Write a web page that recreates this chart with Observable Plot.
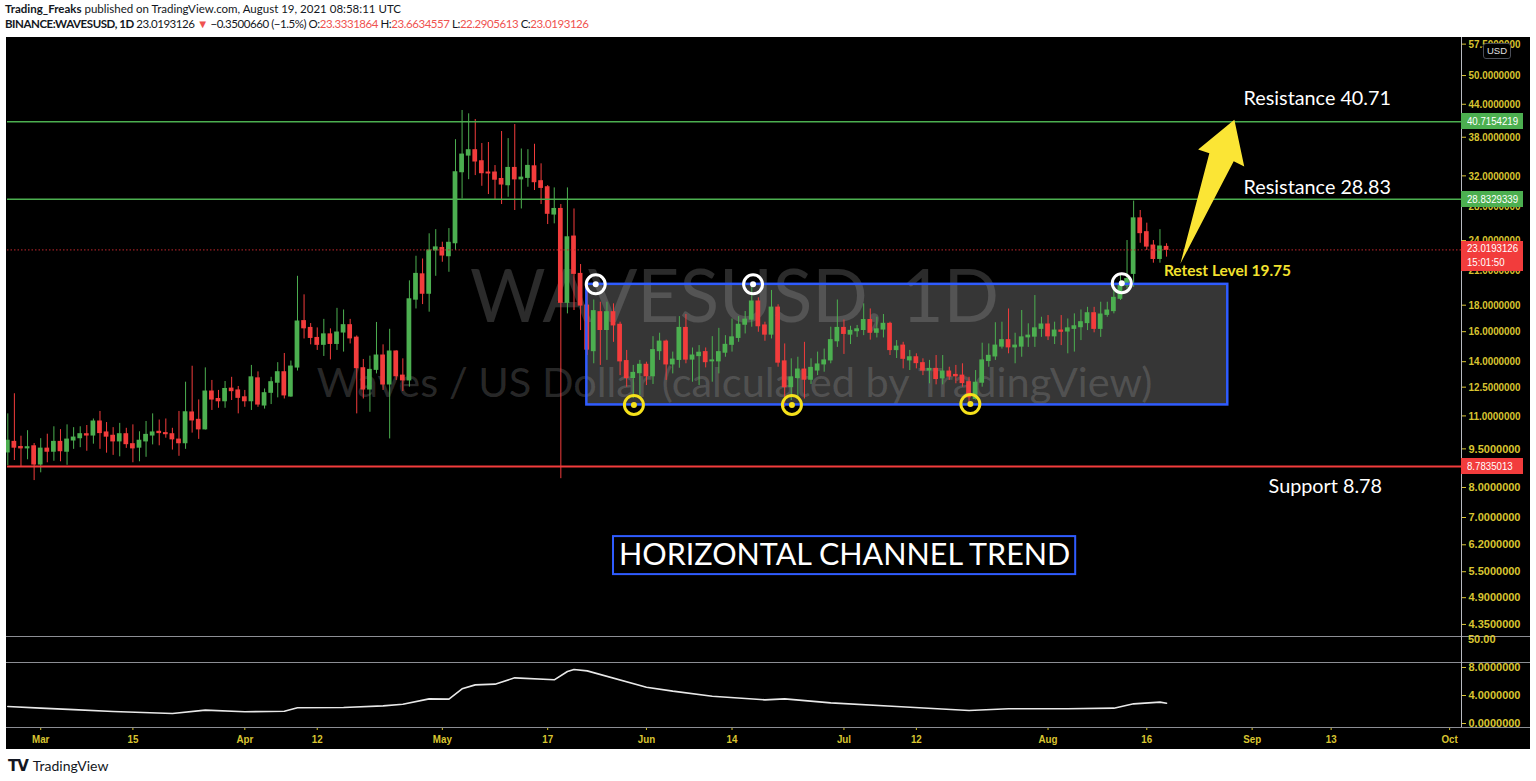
<!DOCTYPE html>
<html>
<head>
<meta charset="utf-8">
<script src="https://cdn.jsdelivr.net/npm/d3@7"></script>
<script src="https://cdn.jsdelivr.net/npm/@observablehq/plot@0.6"></script>
<style>
  html, body { margin: 0; padding: 0; background: #fff; }
  body { width: 1536px; height: 781px; overflow: hidden; font-family: Lato, "Open Sans", sans-serif; }
  #wrap { position: relative; width: 1536px; height: 781px; }
  .hdr { position: absolute; left: 5px; font-size: 11.5px; color: #131722; white-space: nowrap; line-height: 14px; }
  .hdr b { font-weight: 700; }
  .neg { color: #ef5350; }
  #chart { position: absolute; left: 6px; top: 37px; width: 1524px; height: 712px; background: #000; overflow: hidden; }
  #chart svg { position: absolute; left: 0; }
  .hline { position: absolute; left: 0; width: 1524px; height: 1px; background: #8c8e94; }
  .vline { position: absolute; top: 0; width: 1px; height: 690px; background: #b8bac0; }
  .badge { position: absolute; left: 1455px; width: 62px; color: #fff; font-family: "Liberation Sans", sans-serif; font-size: 11.5px; padding-left: 6px; box-sizing: border-box; white-space: nowrap; overflow: hidden; }
  .badge span { display: inline-block; transform: scaleX(0.84); transform-origin: 0 50%; }
  .axlab { position: absolute; color: #d9c531; font-family: "Liberation Sans", sans-serif; font-size: 11px; font-weight: 700; }
  #usd { position: absolute; left: 1477px; top: 6px; width: 26px; height: 14px; border: 1px solid #4a4d57; border-radius: 3px; background: #000; color: #e0e0e0; font-size: 9.5px; font-family: "Liberation Sans", sans-serif; text-align: center; line-height: 14px; }
  #foot { position: absolute; left: 8px; top: 757px; font-size: 14px; color: #131722; white-space: nowrap; }
  #foot .logo { font-weight: 900; font-size: 15px; letter-spacing: -1px; margin-right: 5px; font-family: "DejaVu Sans", sans-serif; }
</style>
</head>
<body>
<div id="wrap">
  <div class="hdr" style="top:2px"><b>Trading_Freaks</b> published on TradingView.com, August 19, 2021 08:58:11 UTC</div>
  <div class="hdr" style="top:17px;letter-spacing:-0.45px"><b>BINANCE:WAVESUSD, 1D</b> 23.0193126 <span class="neg">▼</span> −0.3500660 (−1.5%) O:<span class="neg">23.3331864</span> H:<span class="neg">23.6634557</span> L:<span class="neg">22.2905613</span> C:<span class="neg">23.0193126</span></div>
  <div id="chart"></div>
  <div id="foot"><span class="logo">TV</span>TradingView</div>
</div>
<script>
// ---------- DATA ----------
const startDate = "2021-02-24"; // first daily candle
const open = [9.35,9.80,9.58,9.52,9.61,8.86,9.51,9.38,9.80,9.38,9.86,9.96,10.14,10.08,10.73,10.22,10.07,9.82,10.14,9.70,9.55,9.82,10.08,10.25,10.19,10.14,9.90,9.74,11.17,10.81,10.36,12.26,11.86,11.74,12.42,12.32,11.95,11.74,13.00,11.52,12.19,12.75,13.36,11.99,13.64,16.77,16.27,15.56,15.09,15.81,15.15,15.94,16.47,15.58,13.60,12.37,13.50,14.39,12.65,14.65,13.16,12.88,18.45,20.65,18.94,22.96,23.22,22.38,23.71,32.52,35.02,35.87,34.15,32.48,32.48,31.56,30.69,33.15,31.50,31.71,33.39,31.25,30.42,26.94,27.62,18.19,24.43,20.69,17.97,14.67,17.45,16.12,17.45,16.50,14.04,13.02,13.30,13.81,13.12,14.67,15.31,13.83,14.11,16.27,14.13,14.35,14.61,14.02,14.02,14.57,15.09,15.56,16.50,16.88,18.30,16.45,15.79,17.81,14.02,12.50,13.02,13.52,12.92,13.46,13.83,14.08,15.33,16.27,15.79,16.03,16.12,16.85,15.92,16.15,16.57,14.74,15.04,14.08,14.28,13.91,13.46,13.56,13.00,13.40,13.20,13.16,12.78,11.86,12.75,14.04,14.33,14.97,15.41,14.92,14.97,15.60,15.65,16.20,16.52,15.67,16.08,16.01,16.20,16.32,16.62,17.37,16.20,17.24,17.53,18.52,19.64,20.69,26.49,24.91,23.47,22.11,23.33];
const high = [11.10,12.14,10.05,10.30,9.73,9.94,10.14,10.48,10.35,10.57,10.44,10.48,10.54,10.85,11.22,10.68,10.44,10.64,10.41,10.57,10.25,10.73,11.10,10.80,10.85,10.41,11.22,12.78,13.72,11.81,13.62,12.88,12.32,12.82,13.06,12.54,12.32,13.77,13.38,12.40,13.06,13.94,14.52,14.04,20.47,18.85,16.59,16.27,16.90,16.20,17.75,17.62,16.90,15.70,14.14,14.35,16.67,15.09,16.17,14.70,14.18,20.06,22.38,22.11,24.73,25.19,23.82,25.31,37.59,42.80,42.17,41.12,36.95,37.12,33.50,38.98,37.77,40.21,36.06,35.95,36.83,33.76,30.65,30.33,28.17,30.33,27.62,21.57,19.22,18.42,18.24,18.24,18.11,16.69,14.72,13.77,14.08,13.97,15.65,15.89,15.41,14.61,17.11,17.27,14.88,15.04,14.88,15.65,16.24,15.72,16.93,17.11,17.50,19.79,18.60,16.69,19.22,18.03,15.15,14.18,14.28,15.26,14.18,14.61,14.81,16.32,18.42,16.85,16.39,16.45,18.11,17.70,17.06,17.27,16.69,15.38,15.26,14.72,14.50,14.18,14.08,14.39,14.39,13.66,13.77,13.87,13.06,13.46,15.20,15.15,16.65,16.69,17.70,15.89,17.58,16.57,18.79,17.06,17.19,16.69,17.19,16.93,17.32,17.62,17.83,17.83,18.24,18.24,19.22,20.53,24.00,28.60,27.43,25.93,24.00,25.19,23.66];
const low = [8.82,9.02,8.78,9.05,8.25,8.54,8.93,8.99,8.97,8.83,9.48,9.55,9.40,9.70,9.48,9.32,9.23,9.17,9.52,8.93,8.97,9.15,9.67,9.63,9.96,9.45,9.19,9.48,10.19,9.91,10.33,11.27,11.38,11.38,11.78,11.10,11.43,11.27,11.43,11.34,11.57,11.92,11.86,11.95,13.43,15.49,15.09,14.72,14.33,14.11,14.72,14.61,15.15,11.10,11.86,11.18,13.26,12.32,9.93,12.88,12.26,12.50,17.70,18.05,17.45,20.47,21.79,20.84,22.96,28.87,31.46,32.04,30.55,29.45,28.78,28.17,29.09,27.43,27.62,30.42,29.98,28.17,25.77,25.85,8.32,17.32,17.58,16.08,14.39,13.87,13.77,14.08,15.26,13.16,12.50,11.88,12.05,12.59,12.65,14.08,12.88,13.26,13.60,13.87,12.78,12.59,13.62,12.78,13.26,14.28,14.61,15.26,15.84,16.32,15.96,15.33,15.49,13.66,11.43,11.78,11.86,11.86,12.65,13.16,13.36,13.87,14.92,14.46,15.11,15.60,15.72,15.41,15.56,15.56,14.39,14.20,13.56,13.46,13.56,13.16,12.69,12.63,12.63,12.88,12.69,12.50,11.60,11.80,12.50,13.66,14.08,14.81,14.50,13.87,14.28,14.92,14.92,15.60,15.38,15.11,15.04,14.50,14.61,15.38,16.08,15.92,15.60,17.06,17.32,18.38,19.35,19.49,23.71,22.96,21.70,21.70,22.29];
const close = [9.85,9.55,9.52,9.57,8.86,9.51,9.38,9.80,9.40,9.90,9.99,10.14,10.08,10.73,10.19,10.03,9.82,10.14,9.70,9.52,9.85,10.11,10.22,10.19,10.14,9.91,9.74,11.18,10.78,10.36,12.26,11.83,11.74,12.40,12.28,11.92,11.74,13.06,11.57,12.17,12.78,13.36,12.05,13.70,16.74,16.24,15.56,15.09,15.81,15.15,15.94,16.47,15.53,13.60,12.37,13.50,14.39,12.65,14.65,13.12,12.88,18.48,20.69,18.94,22.96,23.28,22.45,23.76,32.52,35.18,35.87,34.11,32.38,32.34,31.46,30.79,33.15,31.50,31.75,33.45,31.11,30.33,27.03,27.62,18.19,24.35,20.69,17.97,14.77,17.53,16.12,17.45,16.45,14.02,13.02,13.32,13.81,13.12,14.74,15.31,13.83,14.13,16.27,14.13,14.39,14.57,13.97,14.08,14.61,15.09,15.60,16.50,16.88,18.30,16.39,15.79,17.81,13.94,12.50,13.06,13.52,12.92,13.62,13.83,14.08,15.41,16.27,15.84,16.06,16.17,16.85,15.92,16.17,16.57,14.74,14.97,14.18,14.28,13.91,13.46,13.56,12.96,13.40,13.10,13.12,12.73,11.95,12.75,14.08,14.37,15.04,15.41,14.92,15.04,15.60,15.72,16.24,16.52,15.67,16.08,15.99,16.24,16.39,16.69,17.37,16.20,17.27,17.58,18.60,19.64,20.22,26.49,24.80,23.36,22.11,23.37,23.02];

// lower indicator pane (read at sample days after the first candle)
const indicatorDays = [0,5,10,16,25,30,36,42,44,51,57,60,64,67,69,71,74,77,83,85,86,88,97,101,107,115,118,125,135,146,152,161,168,171,175,176];
const indicatorValues = [2.43,2.19,1.98,1.71,1.43,1.91,1.67,1.76,2.24,2.29,2.52,2.76,3.52,3.48,4.95,5.52,5.62,6.52,6.24,7.43,7.71,7.52,5.19,4.62,3.90,3.38,3.52,2.95,2.43,1.86,2.10,2.10,2.19,2.81,3.05,2.90];

// axes
const priceTicks = [57.5,50,44,38,32,28,24,21,18,16,14,12.5,11,9.5,8,7,6.2,5.5,4.9,4.35];
const indicatorTicks = [0,4,8];
const dateTicks = ["2021-03-01","2021-03-15","2021-04-01","2021-04-12","2021-05-01","2021-05-17","2021-06-01","2021-06-14","2021-07-01","2021-07-12","2021-08-01","2021-08-16","2021-09-01","2021-09-13","2021-10-01"];
const monthNames = ["Jan","Feb","Mar","Apr","May","Jun","Jul","Aug","Sep","Oct","Nov","Dec"];

// levels
const resistanceHigh = 40.7154219;
const resistanceLow = 28.8329339;
const supportLevel = 8.7835013;
const lastPrice = 23.0193126;
const lastTimer = "15:01:50";

// channel drawing (day offsets & prices)
const channelDays = [87.95, 185.3];
const channelPrices = [11.55, 19.75];
const topTouchDays = [89.3, 113.2, 169.2];
const topTouchPrices = [19.75, 19.75, 19.85];
const bottomTouchDays = [95.1, 119.1, 146.2];
const bottomTouchPrices = [11.55, 11.55, 11.6];
const arrowDays = [178.1, 182.5, 180.8, 186.3, 187.8, 186.2];
const arrowPrices = [21.64, 35.39, 35.97, 41.07, 33.35, 34.15];

// texts
const labelTexts = ["Resistance 40.71", "Resistance 28.83", "Retest Level 19.75", "Support 8.78"];
const labelDays = [187.7, 187.7, 175.6, 191.5];
const labelPrices = [45.09, 30.42, 21.0, 8.04];
const trendTitle = "HORIZONTAL CHANNEL TREND";
const trendBoxDays = [92.0, 162.2];
const trendBoxPrices = [5.43, 6.43];
const watermark = ["WAVESUSD, 1D", "Waves / US Dollar (calculated by TradingView)"];

// ---------- BUILD ----------
const DAY = 864e5;
const T0 = Date.parse(startDate + "T00:00:00Z");
const dateAt = i => new Date(T0 + i * DAY);
const candles = open.map((o, i) => ({date: dateAt(i), open: o, high: high[i], low: low[i], close: close[i]}));
const indicator = indicatorDays.map((d, i) => ({date: dateAt(d), value: indicatorValues[i]}));
const xDomain = [dateAt(-0.046), dateAt(220.8)];

const GREEN = "#4caf50", RED = "#f23c3c", YEL = "#d9c531", BLUE = "#2f5cff", AX_FONT = "'Liberation Sans',sans-serif";
const col = d => d.close >= d.open ? GREEN : RED;

const chart = document.getElementById("chart");

const main = Plot.plot({
  width: 1524, height: 599,
  marginLeft: 1, marginRight: 69, marginTop: 0, marginBottom: 0,
  style: {background: "transparent", overflow: "visible"},
  x: {type: "utc", domain: xDomain, axis: null},
  y: {type: "log", domain: [4.123, 59.22], axis: null},
  color: {type: "identity"},
  marks: [
    Plot.text([watermark[0]], {frameAnchor: "middle", dy: -38, text: d => d, fill: "#fff", fillOpacity: 0.17, fontSize: 73, fontFamily: "Lato, sans-serif"}),
    Plot.text([watermark[1]], {frameAnchor: "middle", dy: 47, text: d => d, fill: "#fff", fillOpacity: 0.17, fontSize: 41.5, fontFamily: "Lato, sans-serif"}),
    Plot.rect([0], {x1: () => dateAt(channelDays[0]), x2: () => dateAt(channelDays[1]), y1: () => channelPrices[0], y2: () => channelPrices[1], fill: "#b3b3b3", fillOpacity: 0.3}),
    Plot.ruleX(candles, {x: "date", y1: "low", y2: "high", stroke: col, strokeWidth: 1}),
    Plot.rect(candles, {x1: d => new Date(+d.date - 0.36 * DAY), x2: d => new Date(+d.date + 0.36 * DAY), y1: "open", y2: "close", fill: col, insetTop: -0.5, insetBottom: -0.5}),
    Plot.rect([0], {x1: () => dateAt(channelDays[0]), x2: () => dateAt(channelDays[1]), y1: () => channelPrices[0], y2: () => channelPrices[1], fill: "none", stroke: BLUE, strokeWidth: 2.5}),
    Plot.ruleY([resistanceHigh, resistanceLow], {stroke: GREEN, strokeWidth: 1.5}),
    Plot.ruleY([supportLevel], {stroke: RED, strokeWidth: 2}),
    Plot.ruleY([lastPrice], {stroke: "#c0272d", strokeWidth: 1, strokeDasharray: "1.5,2"}),
    Plot.dot(topTouchDays, {x: d => dateAt(d), y: (d, i) => topTouchPrices[i], r: 9.5, stroke: "#fff", strokeWidth: 3, fill: "none"}),
    Plot.dot(topTouchDays, {x: d => dateAt(d), y: (d, i) => topTouchPrices[i], r: 3, fill: "#fff"}),
    Plot.dot(bottomTouchDays, {x: d => dateAt(d), y: (d, i) => bottomTouchPrices[i], r: 9.5, stroke: "#f5e11b", strokeWidth: 3, fill: "none"}),
    Plot.dot(bottomTouchDays, {x: d => dateAt(d), y: (d, i) => bottomTouchPrices[i], r: 3, fill: "#f5e11b"}),
    Plot.line(arrowDays, {x: d => dateAt(d), y: (d, i) => arrowPrices[i], fill: "#fbe535", stroke: "none", curve: "linear-closed"}),
    Plot.text([0, 1, 3], {x: i => dateAt(labelDays[i]), y: i => labelPrices[i], text: i => labelTexts[i], fill: "#fff", fontSize: 19.8, textAnchor: "start", fontFamily: "Lato, sans-serif"}),
    Plot.text([2], {x: i => dateAt(labelDays[i]), y: i => labelPrices[i], text: i => labelTexts[i], fill: "#f3e22e", fontSize: 15.5, fontWeight: 700, textAnchor: "start", fontFamily: "Lato, sans-serif"}),
    Plot.rect([0], {x1: () => dateAt(trendBoxDays[0]), x2: () => dateAt(trendBoxDays[1]), y1: () => trendBoxPrices[0], y2: () => trendBoxPrices[1], fill: "#000", stroke: BLUE, strokeWidth: 2}),
    Plot.text([trendTitle], {x: () => dateAt((trendBoxDays[0] + trendBoxDays[1]) / 2), y: () => Math.sqrt(trendBoxPrices[0] * trendBoxPrices[1]), text: d => d, fill: "#fff", fontSize: 30.5, fontFamily: "Lato, sans-serif"}),
    Plot.axisY({ticks: priceTicks, anchor: "right", tickFormat: d => d.toFixed(7), tickSize: 4, tickPadding: 3, color: YEL, fontSize: 11.5, fontWeight: 700, fontFamily: AX_FONT, textAnchor: "start", label: null})
  ]
});
main.style.top = "0px";
chart.appendChild(main);

const lower = Plot.plot({
  width: 1524, height: 87,
  marginLeft: 1, marginRight: 69, marginTop: 0, marginBottom: 22,
  style: {background: "transparent", overflow: "visible"},
  x: {type: "utc", domain: xDomain},
  y: {domain: [-0.571, 8.714]},
  marks: [
    Plot.line(indicator, {x: "date", y: "value", stroke: "#e8e8e8", strokeWidth: 1.6}),
    Plot.axisY({ticks: indicatorTicks, anchor: "right", tickFormat: d => d.toFixed(7), tickSize: 4, tickPadding: 3, color: YEL, fontSize: 11.5, fontWeight: 700, fontFamily: AX_FONT, textAnchor: "start", label: null}),
    Plot.axisX({ticks: dateTicks.map(s => new Date(s + "T00:00:00Z")), anchor: "bottom", tickSize: 3, tickPadding: 4, color: YEL, fontSize: 11.5, fontWeight: 700, fontFamily: AX_FONT, label: null,
      tickFormat: d => d.getUTCDate() === 1 ? monthNames[d.getUTCMonth()] : String(d.getUTCDate())})
  ]
});
lower.style.top = "625px";
chart.appendChild(lower);

// condense the price-axis labels to the narrow TradingView look
for (const svg of [main, lower]) {
  svg.querySelectorAll('g[aria-label="y-axis tick label"] text').forEach(t => {
    t.setAttribute("textLength", "52");
    t.setAttribute("lengthAdjust", "spacingAndGlyphs");
  });
}
lower.querySelectorAll('g[aria-label="x-axis tick label"] text').forEach(t => {
  t.setAttribute("transform", (t.getAttribute("transform") || "") + " scale(0.85,1)");
});

// separators
function hline(top) { const e = document.createElement("div"); e.className = "hline"; e.style.top = top + "px"; chart.appendChild(e); }
hline(599); hline(625); hline(690);
const v = document.createElement("div"); v.className = "vline"; v.style.left = "1455px"; chart.appendChild(v);

// price badges placed with the plot's own y scale
const ys = main.scale("y");
function badge(value, lines, bg) {
  const e = document.createElement("div");
  e.className = "badge";
  e.style.background = bg;
  e.innerHTML = lines.map(s => "<span>" + s + "</span>").join("<br>");
  const lh = lines.length > 1 ? 14 : 16;
  e.style.lineHeight = lh + "px";
  e.style.height = (lines.length > 1 ? 30 : 16) + "px";
  e.style.top = (ys.apply(value) - 8) + "px";
  chart.appendChild(e);
}
badge(resistanceHigh, [resistanceHigh.toFixed(7)], GREEN);
badge(resistanceLow, [resistanceLow.toFixed(7)], GREEN);
badge(lastPrice, [lastPrice.toFixed(7), lastTimer], RED);
badge(supportLevel, [supportLevel.toFixed(7)], RED);

const u = document.createElement("div"); u.id = "usd"; u.textContent = "USD"; chart.appendChild(u);
const r = document.createElement("div"); r.className = "axlab"; r.textContent = "50.00"; r.style.left = "1462px"; r.style.top = "597px"; r.style.height = "11px"; r.style.overflow = "hidden"; r.style.lineHeight = "11px"; chart.appendChild(r);
</script>
</body>
</html>
